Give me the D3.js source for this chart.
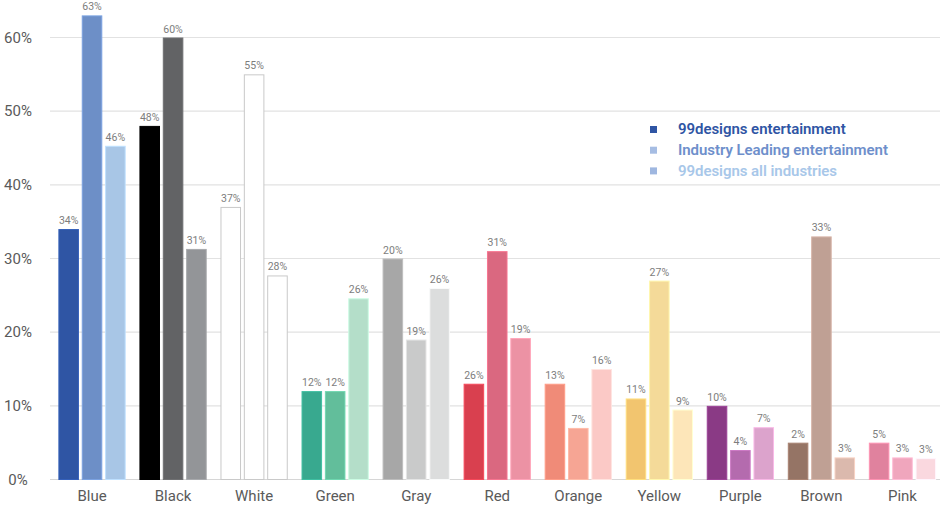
<!DOCTYPE html>
<html>
<head>
<meta charset="utf-8">
<script src="https://cdn.jsdelivr.net/npm/d3@7"></script>
<style>
  body { margin: 0; background: #fff; }
  svg { display: block; font-family: Roboto, "Noto Sans", sans-serif; }
  .grid line { stroke: #e2e2e2; stroke-width: 1.2; }
  .tick-label { fill: #5a5a5a; font-size: 15px; }
  .val { fill: #7d7d7d; font-size: 10.5px; }
  .legend text { font-size: 15px; font-weight: 600; letter-spacing: -0.05px; }
</style>
</head>
<body>
<svg></svg>
<script>
const categories = ['Blue','Black','White','Green','Gray','Red','Orange','Yellow','Purple','Brown','Pink'];
const seriesNames = ['99designs entertainment','Industry Leading entertainment','99designs all industries'];

// bar heights (%) as drawn
const entertainment   = [34, 48, 37, 12, 30, 13, 13, 11, 10, 5, 5];
const industryLeading = [63, 60, 55, 12, 19, 31, 7, 27, 4, 33, 3];
const allIndustries   = [45.3, 31.3, 27.7, 24.6, 26, 19.2, 15, 9.5, 7.1, 3, 2.9];

// printed labels above bars
const entertainmentLabels   = ['34%','48%','37%','12%','20%','26%','13%','11%','10%','2%','5%'];
const industryLeadingLabels = ['63%','60%','55%','12%','19%','31%','7%','27%','4%','33%','3%'];
const allIndustriesLabels   = ['46%','31%','28%','26%','26%','19%','16%','9%','7%','3%','3%'];

const yTicks = [0, 10, 20, 30, 40, 50, 60];

const palette = {
  Blue:   ['#2f55a4', '#6d8fc7', '#a8c6e6'],
  Black:  ['#000000', '#626365', '#939598'],
  White:  ['#ffffff', '#ffffff', '#ffffff'],
  Green:  ['#38a98f', '#62be9b', '#b4dec9'],
  Gray:   ['#a7a7a7', '#c9caca', '#dcdddd'],
  Red:    ['#d9404f', '#da6880', '#ec92a4'],
  Orange: ['#f08b78', '#f6a594', '#fbc9c6'],
  Yellow: ['#f2c56f', '#f4da99', '#fde6b9'],
  Purple: ['#8a3a85', '#b46bae', '#dca3cc'],
  Brown:  ['#957465', '#bfa094', '#dbb9ad'],
  Pink:   ['#e0829e', '#f0a6bd', '#fad8df']
};
const legendColors = ['#2f55a4', '#a6bde3', '#9fb7e0'];
const legendText   = ['#2f55a4', '#6e8fcb', '#a8c7e9'];

const width = 940, height = 507;
const svg = d3.select('svg').attr('width', width).attr('height', height);

const values = [entertainment, industryLeading, allIndustries];
const labels = [entertainmentLabels, industryLeadingLabels, allIndustriesLabels];

const data = categories.map((c, i) => ({
  cat: c,
  bars: values.map((v, s) => ({ s, value: v[i], label: labels[s][i], cat: c }))
}));

const x = d3.scaleBand()
  .domain(categories)
  .range([51.5, 943])
  .paddingInner(0.17)
  .paddingOuter(0.085);

const xInner = d3.scaleBand()
  .domain(d3.range(3))
  .range([0, x.bandwidth()])
  .paddingInner(0.12);

const y = d3.scaleLinear().domain([0, 60]).range([479.5, 37.5]);

// grid
svg.append('g').attr('class', 'grid')
  .selectAll('line').data(yTicks).join('line')
  .attr('x1', 50).attr('x2', width)
  .attr('y1', d => y(d)).attr('y2', d => y(d))
  .style('stroke', d => d === 0 ? '#d6d6d6' : null);

// y labels
svg.append('g').selectAll('text').data(yTicks).join('text')
  .attr('class', 'tick-label')
  .attr('x', 18).attr('y', d => y(d))
  .attr('text-anchor', 'middle').attr('dy', '0.35em')
  .text(d => d + '%');

// bars
const groups = svg.append('g').selectAll('g').data(data).join('g')
  .attr('transform', d => `translate(${x(d.cat)},0)`);

groups.selectAll('rect').data(d => d.bars).join('rect')
  .attr('x', d => xInner(d.s) + 0.5)
  .attr('width', xInner.bandwidth() - 1)
  .attr('y', d => y(d.value) + 0.5)
  .attr('height', d => y(0) - y(d.value) - 0.5)
  .attr('fill', d => palette[d.cat][d.s])
  .attr('stroke', d => d.cat === 'White' ? '#c9c9c9' : d3.color(palette[d.cat][d.s]).brighter(0.35))
  .attr('stroke-width', 1);

groups.selectAll('text.val').data(d => d.bars).join('text')
  .attr('class', 'val')
  .attr('x', d => xInner(d.s) + xInner.bandwidth() / 2)
  .attr('y', d => y(d.value) - 5)
  .attr('text-anchor', 'middle')
  .text(d => d.label);

// category labels
svg.append('g').selectAll('text').data(categories).join('text')
  .attr('class', 'tick-label')
  .attr('x', d => x(d) + x.bandwidth() / 2)
  .attr('y', 501)
  .attr('text-anchor', 'middle')
  .text(d => d);

// legend
const legend = svg.append('g').attr('class', 'legend')
  .attr('transform', 'translate(650,129)');
const li = legend.selectAll('g').data(seriesNames).join('g')
  .attr('transform', (d, i) => `translate(0,${i * 20.7})`);
li.append('rect')
  .attr('x', 0).attr('y', -3).attr('width', 7).attr('height', 7)
  .attr('fill', (d, i) => legendColors[i]);
li.append('text')
  .attr('x', 28).attr('y', 0).attr('dy', '0.35em')
  .attr('fill', (d, i) => legendText[i])
  .text(d => d);
</script>
</body>
</html>
